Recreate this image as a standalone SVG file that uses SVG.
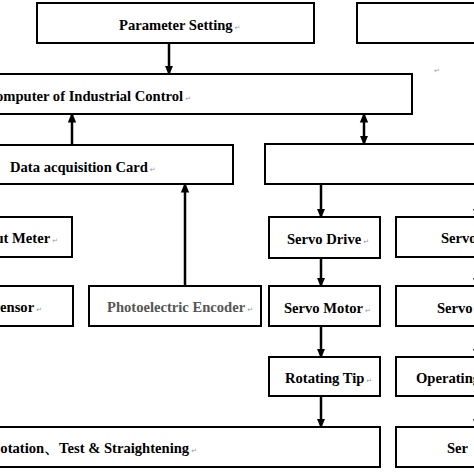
<svg xmlns="http://www.w3.org/2000/svg" width="474" height="474" viewBox="0 0 474 474">
<style>
.box{fill:#fff;stroke:#000;stroke-width:2}
.t{font-family:"Liberation Serif","Times New Roman",serif;font-size:14.6px;font-weight:bold;fill:#000}
.g{font-family:"Liberation Serif","Times New Roman",serif;font-size:14.6px;font-weight:bold;fill:#555}
.pm{font-family:"DejaVu Sans",sans-serif;font-size:7px;font-weight:normal;fill:#999}
.ln{stroke:#000;stroke-width:2.5;fill:none}
</style>
<defs>
<marker id="ah" markerWidth="10" markerHeight="12" refX="9" refY="5" orient="auto" markerUnits="userSpaceOnUse" viewBox="0 0 12 10">
<path d="M0,0 L12,5 L0,10 Z" fill="#000"/>
</marker>
<marker id="as" markerWidth="10" markerHeight="12" refX="3" refY="5" orient="auto" markerUnits="userSpaceOnUse" viewBox="0 0 12 10">
<path d="M12,0 L0,5 L12,10 Z" fill="#000"/>
</marker>
</defs>
<rect width="474" height="474" fill="#fff"/>
<g id="connectors">
<line class="ln" x1="169" y1="43" x2="169" y2="73" marker-end="url(#ah)"/>
<line class="ln" x1="72" y1="145" x2="72" y2="115" marker-end="url(#ah)"/>
<line class="ln" x1="364" y1="115" x2="364" y2="143" marker-start="url(#as)" marker-end="url(#ah)"/>
<line class="ln" x1="185" y1="286" x2="185" y2="185" marker-end="url(#ah)"/>
<line class="ln" x1="321" y1="184" x2="321" y2="216" marker-end="url(#ah)"/>
<line class="ln" x1="321" y1="258" x2="321" y2="285" marker-end="url(#ah)"/>
<line class="ln" x1="321" y1="326" x2="321" y2="356" marker-end="url(#ah)"/>
<line class="ln" x1="321" y1="396" x2="321" y2="426" marker-end="url(#ah)"/>
<line class="ln" x1="477" y1="184" x2="477" y2="216" marker-end="url(#ah)"/>
<line class="ln" x1="477" y1="258" x2="477" y2="285" marker-end="url(#ah)"/>
<line class="ln" x1="477" y1="326" x2="477" y2="356" marker-end="url(#ah)"/>
<line class="ln" x1="477" y1="396" x2="477" y2="426" marker-end="url(#ah)"/>
</g>
<g id="parameter-setting">
<rect class="box" x="37" y="3" width="277" height="40"/>
<text class="t" x="119" y="30">Parameter Setting<tspan class="pm" dx="2">↵</tspan></text>
</g>
<g id="top-right">
<rect class="box" x="357" y="3" width="130" height="40"/>
</g>
<text class="pm" x="434" y="73">↵</text>
<g id="computer">
<rect class="box" x="-10" y="74" width="422" height="40"/>
<text class="t" x="191" y="101" text-anchor="end">omputer of Industrial Control<tspan class="pm" dx="2">↵</tspan></text>
</g>
<g id="data-acquisition">
<rect class="box" x="-10" y="145" width="243" height="39"/>
<text class="t" x="10" y="172">Data acquisition Card<tspan class="pm" dx="2">↵</tspan></text>
</g>
<g id="middle-right">
<rect class="box" x="265" y="144" width="220" height="40"/>
</g>
<g id="meter">
<rect class="box" x="-10" y="217" width="82" height="40"/>
<text class="t" x="58" y="243" text-anchor="end">ut Meter<tspan class="pm" dx="2">↵</tspan></text>
</g>
<g id="sensor">
<rect class="box" x="-10" y="286" width="83" height="40"/>
<text class="t" x="42" y="312" text-anchor="end">ensor<tspan class="pm" dx="2">↵</tspan></text>
</g>
<g id="encoder">
<rect class="box" x="89" y="286" width="172" height="40"/>
<text class="g" x="107" y="312">Photoelectric Encoder<tspan class="pm" dx="2">↵</tspan></text>
</g>
<g id="servo-drive">
<rect class="box" x="269" y="217" width="111" height="41"/>
<text class="t" x="287" y="244">Servo Drive<tspan class="pm" dx="2">↵</tspan></text>
</g>
<g id="servo-motor">
<rect class="box" x="269" y="286" width="111" height="40"/>
<text class="t" x="284" y="313">Servo Motor<tspan class="pm" dx="2">↵</tspan></text>
</g>
<g id="rotating-tip">
<rect class="box" x="269" y="357" width="111" height="39"/>
<text class="t" x="285" y="383">Rotating Tip<tspan class="pm" dx="2">↵</tspan></text>
</g>
<g id="rotation-test">
<rect class="box" x="-10" y="427" width="390" height="40"/>
<text class="t" x="197" y="453" text-anchor="end">otation、Test &amp; Straightening<tspan class="pm" dx="2">↵</tspan></text>
</g>
<g id="right-1">
<rect class="box" x="396" y="217" width="90" height="40"/>
<text class="t" x="441" y="243">Servo</text>
</g>
<g id="right-2">
<rect class="box" x="396" y="286" width="90" height="40"/>
<text class="t" x="437" y="313">Servo</text>
</g>
<g id="right-3">
<rect class="box" x="396" y="357" width="90" height="39"/>
<text class="t" x="416" y="383">Operating</text>
</g>
<g id="right-4">
<rect class="box" x="396" y="427" width="90" height="40"/>
<text class="t" x="447" y="453">Ser</text>
</g>
</svg>
